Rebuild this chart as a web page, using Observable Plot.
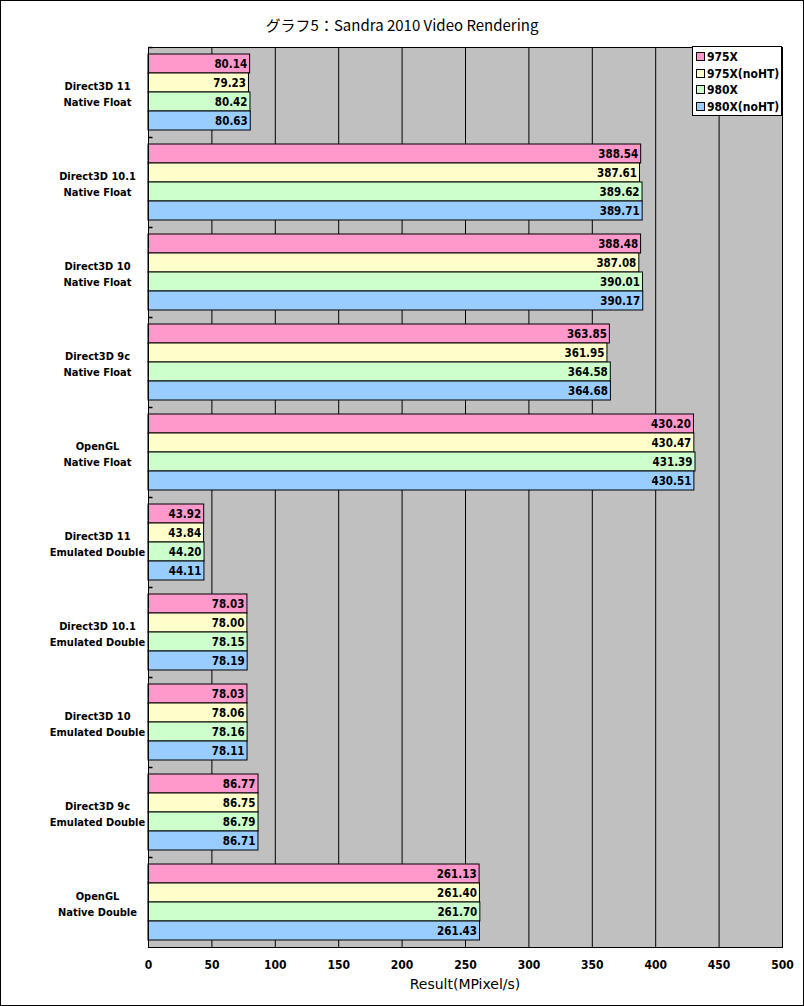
<!DOCTYPE html>
<html>
<head>
<meta charset="utf-8">
<script src="https://cdn.jsdelivr.net/npm/d3@7"></script>
<script src="https://cdn.jsdelivr.net/npm/@observablehq/plot@0.6"></script>
<style>
  body { margin: 0; background: #fff; }
  #wrap { position: relative; width: 804px; height: 1006px; overflow: hidden; background: #fff; }
  #border { position: absolute; left: 0; top: 0; width: 804px; height: 1006px; box-sizing: border-box; border: 1px solid #000; pointer-events: none; }
  #title { position: absolute; left: 0; top: 15px; width: 804px; text-align: center; font-family: "Noto Sans CJK JP", sans-serif; font-size: 15px; line-height: 20px; color: #000; }
  #xlabel { position: absolute; left: 148px; top: 974px; width: 634px; text-align: center; font-family: "DejaVu Sans", sans-serif; font-size: 14px; line-height: 20px; color: #000; }
  #legend { position: absolute; left: 692px; top: 46px; width: 90px; height: 70px; box-sizing: border-box; border: 1px solid #000; background: #fff; padding: 2px 0 0 3px; font-family: "DejaVu Sans Condensed", "DejaVu Sans", sans-serif; font-weight: bold; font-size: 12px; }
  #legend .item { height: 16.5px; line-height: 16.5px; white-space: nowrap; }
  #legend .sw { display: inline-block; width: 7px; height: 7px; border: 1px solid #000; margin-right: 2px; vertical-align: 0px; }
</style>
</head>
<body>
<div id="wrap">
  <div id="chart"></div>
  <div id="title">グラフ5：Sandra 2010 Video Rendering</div>
  <div id="xlabel">Result(MPixel/s)</div>
  <div id="legend"></div>
  <div id="border"></div>
</div>
<script>
const categories = [
  "Direct3D 11\nNative Float",
  "Direct3D 10.1\nNative Float",
  "Direct3D 10\nNative Float",
  "Direct3D 9c\nNative Float",
  "OpenGL\nNative Float",
  "Direct3D 11\nEmulated Double",
  "Direct3D 10.1\nEmulated Double",
  "Direct3D 10\nEmulated Double",
  "Direct3D 9c\nEmulated Double",
  "OpenGL\nNative Double"
];
const series = ["975X", "975X(noHT)", "980X", "980X(noHT)"];
const seriesColors = ["#ff99cc", "#ffffcc", "#ccffcc", "#99ccff"];
const v975X      = [80.14, 388.54, 388.48, 363.85, 430.20, 43.92, 78.03, 78.03, 86.77, 261.13];
const v975XnoHT  = [79.23, 387.61, 387.08, 361.95, 430.47, 43.84, 78.00, 78.06, 86.75, 261.40];
const v980X      = [80.42, 389.62, 390.01, 364.58, 431.39, 44.20, 78.15, 78.16, 86.79, 261.70];
const v980XnoHT  = [80.63, 389.71, 390.17, 364.68, 430.51, 44.11, 78.19, 78.11, 86.71, 261.43];
const xTicks = [0, 50, 100, 150, 200, 250, 300, 350, 400, 450, 500];

const seriesValues = [v975X, v975XnoHT, v980X, v980XnoHT];
const data = [];
categories.forEach((c, i) => {
  series.forEach((s, j) => data.push({cat: c, series: s, value: seriesValues[j][i]}));
});

const tickSymbol = { draw(ctx, size) { ctx.moveTo(0, 0); ctx.lineTo(4, 0); } };

const chart = Plot.plot({
  width: 804,
  height: 1006,
  marginLeft: 148,
  marginRight: 22,
  marginTop: 46,
  marginBottom: 59,
  style: { fontFamily: "'DejaVu Sans Condensed', 'DejaVu Sans', sans-serif", fontSize: "12px", fontWeight: "bold", color: "#000", background: "transparent" },
  x: { domain: [0, 500], ticks: xTicks, tickSize: 0, tickPadding: 13, label: null },
  y: { domain: series, paddingInner: 0, paddingOuter: 0.28, axis: null },
  fy: { domain: categories, padding: 0, axis: null },
  color: { domain: series, range: seriesColors },
  marks: [
    Plot.frame({ fill: "#c0c0c0", facet: "super" }),
    Plot.ruleX(xTicks.slice(1, -1), { stroke: "#000", strokeWidth: 1 }),
    Plot.dot([0], { frameAnchor: "top-left", symbol: tickSymbol, stroke: "#000", fill: "none", r: 3 }),
    Plot.barX(data, { fy: "cat", y: "series", x: "value", fill: "series", stroke: "#000", strokeWidth: 1, insetTop: 0, insetBottom: 0 }),
    Plot.text(data, { fy: "cat", y: "series", x: "value", text: d => d.value.toFixed(2), textAnchor: "end", dx: -3, fontWeight: "bold", fontSize: 11.5, fill: "#000" }),
    Plot.text(categories, { fy: d => d, text: d => d, frameAnchor: "left", dx: -51, textAnchor: "middle", lineHeight: 1.45, fontWeight: "bold", fontSize: 11, fill: "#000" }),
    Plot.frame({ stroke: "#000", facet: "super" })
  ]
});
document.getElementById("chart").appendChild(chart);

const legend = document.getElementById("legend");
series.forEach((s, i) => {
  const item = document.createElement("div");
  item.className = "item";
  const sw = document.createElement("span");
  sw.className = "sw";
  sw.style.background = seriesColors[i];
  item.appendChild(sw);
  item.appendChild(document.createTextNode(s));
  legend.appendChild(item);
});
</script>
</body>
</html>
